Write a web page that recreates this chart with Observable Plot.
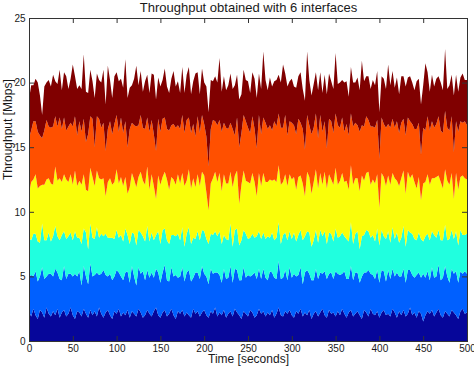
<!DOCTYPE html>
<html><head><meta charset="utf-8">
<script src="https://cdn.jsdelivr.net/npm/d3@7"></script>
<script src="https://cdn.jsdelivr.net/npm/@observablehq/plot@0.6"></script>
<style>body{margin:0;background:#fff;}</style>
</head><body><div id="chart"></div>
<script>
const title = "Throughput obtained with 6 interfaces";
const xLabel = "Time [seconds]";
const yLabel = "Throughput [Mbps]";
const interfaces = ["Interface 1","Interface 2","Interface 3","Interface 4","Interface 5","Interface 6"];
const colors = ["#06069A","#0060FF","#20FFDF","#FAFF08","#FF5000","#800000"];
const xTicks = [0,50,100,150,200,250,300,350,400,450,500];
const yTicks = [0,5,10,15,20,25];
const time = d3.range(0, 500.1, 2.5);

const if1 = [2.3,1.9,2.5,2.0,1.7,2.4,2.2,1.8,2.6,2.1,1.9,2.3,2.0,2.5,1.8,2.2,2.4,1.9,2.1,2.6,
2.0,1.7,2.3,2.2,1.9,2.5,2.1,1.8,2.4,2.0,2.3,1.9,2.6,2.1,1.8,2.2,2.4,2.0,1.7,2.3,
2.1,2.5,1.9,2.2,2.0,2.4,1.8,2.3,2.1,1.9,2.5,2.2,1.8,2.0,2.4,2.1,1.9,2.3,2.6,2.0,
1.8,2.2,2.4,1.9,2.1,2.5,2.0,1.7,2.3,2.1,2.4,1.9,2.2,2.0,1.8,2.5,2.1,2.3,1.9,2.2,
2.4,2.0,1.8,2.3,2.1,2.6,1.9,2.2,2.0,2.4,1.8,2.1,2.3,1.9,2.5,2.2,2.0,1.7,2.3,2.1,
1.9,2.4,2.2,1.8,2.0,2.5,2.1,2.3,1.9,2.2,2.0,2.4,1.8,2.1,2.6,2.0,1.9,2.3,2.1,2.4,
2.0,1.8,2.3,2.1,2.5,1.9,2.2,2.0,2.4,1.7,2.1,2.3,1.9,2.2,2.5,2.0,1.8,2.4,2.1,2.2,
1.9,2.3,2.0,2.5,2.1,1.8,2.2,2.4,1.9,2.1,2.3,2.0,1.7,2.4,2.2,1.9,2.5,2.1,2.0,2.3,
1.8,2.2,2.4,2.0,2.1,1.9,2.5,2.2,1.8,2.3,2.0,2.4,1.9,2.1,2.6,2.0,2.2,1.8,2.3,2.1,
1.5,2.0,2.3,2.1,2.4,1.9,2.2,2.5,2.0,1.8,2.3,2.1,1.9,2.4,2.2,2.0,1.7,2.3,2.5,2.1,
2.2];
const if2 = [2.7,3.2,2.5,3.4,2.9,2.6,3.5,3.0,2.4,3.1,3.3,2.7,3.6,2.8,3.0,2.5,3.4,2.9,3.1,2.6,
3.0,3.5,2.7,3.2,2.4,3.3,2.9,2.6,3.6,3.0,2.8,3.4,2.5,3.1,3.7,2.9,2.6,3.2,3.0,2.7,
3.4,2.8,3.1,2.5,3.3,3.0,2.7,3.5,2.9,2.4,3.2,3.0,3.6,2.7,3.1,2.8,3.4,2.6,3.0,3.3,
2.7,3.1,3.5,2.8,2.5,3.2,3.0,3.4,2.6,2.9,3.3,2.7,3.1,3.5,2.8,2.4,3.2,3.0,2.9,3.6,
2.8,3.0,2.6,3.3,3.1,2.7,3.4,2.9,2.5,3.2,3.0,2.8,3.5,2.6,3.1,3.3,2.7,3.0,3.4,2.8,
3.2,2.6,2.9,3.5,2.8,3.1,2.7,3.3,3.0,2.5,3.4,2.9,3.1,2.7,3.6,2.8,3.0,3.2,2.6,3.3,
2.9,3.4,2.7,3.0,3.2,2.5,3.1,3.5,2.8,3.0,2.6,3.3,2.9,3.1,2.7,3.4,3.0,2.8,3.2,2.6,
3.5,2.9,3.1,2.7,3.3,3.0,2.6,3.4,2.8,3.2,3.0,2.5,3.3,2.9,3.1,3.6,2.7,3.0,2.8,3.2,
2.7,3.3,3.0,2.6,3.4,2.9,3.1,2.8,3.5,2.7,3.0,3.2,2.6,3.4,2.9,3.1,2.7,3.3,3.0,2.8,
3.7,2.9,3.1,2.6,3.3,3.0,2.8,3.4,2.7,3.1,3.5,2.9,2.6,3.2,3.0,3.4,2.8,3.1,2.7,3.3,
3.0];
const if3 = [3.0,2.7,3.3,2.9,3.1,2.6,3.4,3.0,2.8,3.2,2.5,3.1,3.3,2.8,3.0,3.5,2.7,3.1,2.9,3.2,
2.8,3.3,3.0,2.6,3.2,2.9,3.4,2.7,3.1,3.0,2.8,3.5,2.9,3.1,2.6,3.2,3.0,2.8,3.3,2.9,
3.1,2.7,3.2,3.0,3.4,2.8,3.0,2.6,3.3,3.1,2.9,3.2,2.7,3.0,3.4,2.8,3.1,2.9,2.6,3.2,
3.0,3.3,2.8,3.1,2.9,2.5,3.2,3.0,3.4,2.8,3.1,2.7,3.0,3.3,2.9,3.1,2.6,3.2,3.0,2.8,
3.3,2.9,3.1,2.7,3.0,3.2,2.8,3.4,3.0,2.6,3.1,2.9,3.3,2.8,3.0,3.2,2.7,3.1,2.9,3.4,
2.8,3.0,3.2,2.7,3.3,2.9,3.1,2.8,3.0,3.4,2.6,3.1,2.9,3.2,3.0,2.7,3.3,2.9,3.1,2.8,
3.0,3.2,2.7,3.1,2.9,3.4,2.8,3.0,3.2,2.6,3.1,3.0,2.8,3.3,2.9,3.1,2.7,3.2,3.0,2.9,
3.3,2.8,3.0,3.2,2.7,3.1,2.9,3.4,2.8,3.0,3.2,2.6,3.1,2.9,3.3,3.0,2.8,3.1,2.9,3.2,
2.9,3.1,2.7,3.3,3.0,2.8,3.2,2.9,3.1,2.6,3.0,3.3,2.8,3.1,2.9,3.2,3.0,2.7,3.1,3.0,
2.5,3.2,2.9,3.1,2.8,3.3,3.0,2.7,3.1,2.9,3.2,2.8,3.4,3.0,2.7,3.1,2.9,3.2,3.0,2.8,
3.1];
const if4 = [3.4,4.5,4.2,4.6,4.1,4.4,3.0,4.3,4.7,4.2,4.5,4.0,4.6,4.3,4.8,4.1,4.4,4.6,4.2,4.5,
4.3,4.7,4.0,4.4,4.6,4.2,3.3,4.5,4.3,4.7,4.1,4.4,4.6,4.2,4.5,2.9,4.3,4.6,4.1,4.4,
4.7,4.2,4.5,4.3,4.0,3.2,4.4,4.6,4.2,4.5,4.1,4.7,4.3,4.4,4.6,4.0,4.5,4.2,2.8,4.3,
4.6,4.1,4.4,4.7,4.2,4.5,4.3,4.0,4.6,4.4,4.2,4.7,4.1,4.5,4.3,4.6,4.0,4.4,4.2,4.5,
4.3,3.6,2.6,3.9,4.4,4.6,4.2,4.5,4.1,4.7,4.3,4.4,4.0,4.6,4.2,4.5,3.2,4.3,4.6,4.1,
4.4,4.2,4.7,4.3,3.1,4.5,4.1,4.6,4.4,4.2,4.5,4.0,4.7,4.3,4.4,4.6,4.1,4.5,4.2,4.4,
4.6,4.3,4.0,4.5,4.2,4.4,3.1,4.6,4.3,4.1,4.5,4.7,4.2,4.4,4.0,4.6,4.3,4.5,4.2,4.4,
4.7,4.1,4.3,4.6,4.2,4.5,4.0,4.4,4.6,4.3,4.1,4.5,4.7,4.2,4.4,4.6,4.1,4.3,4.5,4.2,
2.9,4.4,4.6,4.1,4.3,4.5,4.2,4.7,4.0,4.4,4.6,4.3,4.1,4.5,4.2,4.6,4.4,4.0,4.3,3.0,
4.5,4.2,4.6,4.3,4.1,4.4,4.7,4.2,4.5,4.0,4.3,4.6,4.2,4.4,3.1,4.5,4.3,4.1,4.6,4.4,
4.2];
const if5 = [4.3,4.0,4.5,4.1,4.4,3.9,3.6,4.2,4.6,4.0,4.3,4.5,3.9,4.2,4.7,4.1,4.4,3.8,4.3,4.0,
4.5,4.2,3.9,4.6,4.1,4.3,3.7,4.4,4.0,4.5,3.0,4.2,4.6,4.0,4.3,3.5,4.1,4.4,3.9,4.5,
4.2,4.0,4.6,4.1,4.3,3.6,4.5,3.9,4.2,4.7,4.0,4.4,4.1,4.3,3.8,4.5,4.2,4.0,3.7,4.4,
4.1,4.5,4.2,3.9,4.6,4.0,4.3,4.4,3.8,4.2,4.5,4.1,4.7,4.0,4.3,4.2,3.9,4.5,4.1,4.4,
4.0,4.3,3.4,4.2,4.5,3.9,4.4,4.1,4.6,4.0,4.3,4.2,3.8,4.5,3.1,4.1,4.4,4.0,4.3,4.6,
4.2,3.9,4.4,4.1,3.7,4.5,4.0,4.3,4.6,4.1,4.2,3.9,4.5,4.3,4.0,4.4,4.2,4.6,3.9,4.1,
4.4,4.0,4.3,4.5,4.1,4.2,3.6,4.4,4.0,4.6,4.2,4.3,3.9,4.5,4.1,3.9,3.1,4.3,4.5,4.0,
4.2,4.6,4.1,4.3,3.9,4.4,4.2,4.0,4.5,4.3,4.1,4.6,3.9,4.2,4.4,4.0,4.5,4.1,4.3,4.2,
3.8,4.3,4.1,4.5,4.0,4.4,4.2,3.9,4.6,4.1,4.3,4.0,4.5,4.2,4.4,3.9,4.1,4.6,4.2,3.5,
4.3,4.0,4.5,4.2,4.4,3.9,4.1,4.6,4.0,4.3,4.5,4.1,4.2,4.4,3.6,4.0,4.5,4.3,4.1,4.4,
4.2];
const if6 = [3.0,3.5,2.8,3.3,3.8,3.1,1.8,3.4,2.9,3.6,3.2,4.0,2.7,3.3,3.7,3.0,3.5,4.2,2.9,3.4,
4.8,3.1,3.6,2.8,3.3,5.0,3.9,3.2,3.6,2.9,3.8,3.3,3.0,3.5,4.1,3.6,4.9,3.2,2.8,3.7,
3.3,3.9,3.0,3.5,4.8,3.8,3.2,2.9,3.6,4.7,3.1,3.4,2.8,3.7,3.3,3.0,3.6,4.6,4.0,3.2,
3.5,3.0,3.8,3.3,2.9,3.6,4.1,3.2,3.4,2.8,3.7,3.1,3.5,3.9,3.0,3.3,4.9,3.4,3.0,3.6,
3.2,3.9,4.2,3.8,3.0,3.5,3.3,4.8,3.1,3.6,2.9,3.4,3.8,3.1,3.9,3.3,3.7,3.0,3.5,3.2,
3.6,3.1,3.4,3.9,3.9,3.2,3.5,5.1,3.3,3.0,3.7,3.4,3.1,3.6,3.0,3.5,4.9,3.2,3.8,3.1,
3.4,3.0,3.6,3.3,3.9,3.1,3.8,4.9,3.5,3.0,3.4,3.2,3.7,3.3,3.0,3.6,4.2,3.5,3.1,3.4,
4.7,3.2,3.5,2.9,3.8,3.3,3.0,3.6,3.4,3.1,3.7,3.2,5.0,3.5,3.1,3.4,2.9,3.6,3.3,3.8,
3.6,3.2,3.5,3.0,4.6,3.3,3.7,3.1,3.4,3.0,3.6,3.3,3.8,3.1,3.5,3.2,3.0,3.7,3.4,3.9,
3.3,5.2,3.4,3.0,3.6,3.2,3.5,3.1,3.7,3.3,4.8,3.0,3.5,3.2,4.4,3.6,3.1,3.4,3.8,3.2,
3.5];

const W = 474, H = 367, mL = 29, mR = 7, mT = 18, mB = 26;
const pw = W - mL - mR, ph = H - mT - mB;
const series = [if1, if2, if3, if4, if5, if6];
const data = [];
series.forEach((s, k) => s.forEach((v, i) => data.push({t: time[i], v, s: interfaces[k]})));
const ink = "#1a1a1a";
const axisStroke = "#333";

const chart = Plot.plot({
  width: W, height: H,
  marginLeft: mL, marginRight: mR, marginTop: mT, marginBottom: mB,
  style: {fontFamily: "'Liberation Sans', Arial, sans-serif", fontSize: "10px", color: ink, background: "#fff"},
  x: {domain: [0, 500], label: null},
  y: {domain: [0, 25], label: null},
  color: {domain: interfaces, range: colors},
  marks: [
    Plot.areaY(data, {x: "t", y: "v", fill: "s", z: "s", curve: "linear"}),
    Plot.frame({stroke: axisStroke, strokeWidth: 1}),
    Plot.tickX(xTicks, {x: d => d, insetTop: ph - 5, stroke: axisStroke}),
    Plot.tickX(xTicks, {x: d => d, insetBottom: ph - 5, stroke: axisStroke}),
    Plot.tickY(yTicks, {y: d => d, insetRight: pw - 5, stroke: axisStroke}),
    Plot.tickY(yTicks, {y: d => d, insetLeft: pw - 5, stroke: axisStroke}),
    Plot.axisX({ticks: xTicks, tickSize: 0, tickPadding: 3, label: null, fontSize: 10}),
    Plot.axisY({ticks: yTicks, tickSize: 0, tickPadding: 4, label: null, fontSize: 10}),
    Plot.text([title], {frameAnchor: "top", lineAnchor: "middle", dy: -11, fontSize: 13, fill: ink}),
    Plot.text([xLabel], {frameAnchor: "bottom", lineAnchor: "middle", dy: 18, fontSize: 12, fill: ink}),
    Plot.text([yLabel], {frameAnchor: "left", lineAnchor: "middle", dx: -21, rotate: -90, fontSize: 12, fill: ink})
  ]
});
document.getElementById("chart").appendChild(chart);
</script>
</body></html>
